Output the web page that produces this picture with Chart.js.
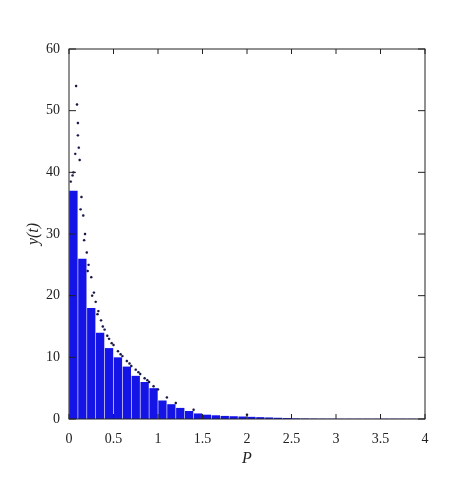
<!DOCTYPE html>
<html>
<head>
<meta charset="utf-8">
<script src="https://cdn.jsdelivr.net/npm/chart.js@4/dist/chart.umd.min.js"></script>
<style>
  html, body { margin: 0; padding: 0; background: #fff; }
  #wrap { width: 474px; height: 479px; }
</style>
</head>
<body>
<div id="wrap"><canvas id="chart"></canvas></div>
<script>
// bin centres of P and top of the dense blue band y(t)
const binP = [0.05, 0.15, 0.25, 0.35, 0.45, 0.55, 0.65, 0.75, 0.85, 0.95, 1.05, 1.15, 1.25, 1.35, 1.45,
              1.55, 1.65, 1.75, 1.85, 1.95, 2.05, 2.15, 2.25, 2.35, 2.45, 2.55, 2.65, 2.75, 2.85, 2.95,
              3.05, 3.15, 3.25, 3.35, 3.45, 3.55, 3.65, 3.75, 3.85, 3.95];
const bandTop = [37, 26, 18, 14, 11.5, 10, 8.5, 7, 6, 5, 3, 2.4, 1.8, 1.3, 0.9,
                 0.7, 0.6, 0.5, 0.45, 0.4, 0.35, 0.3, 0.25, 0.2, 0.15, 0.1, 0.08, 0.06, 0.05, 0.05,
                 0.04, 0.04, 0.04, 0.04, 0.04, 0.04, 0.04, 0.04, 0.04, 0.04];
// scattered outlying points above the band
const edgeP = [0.08, 0.09, 0.1, 0.1, 0.11, 0.12, 0.07, 0.05, 0.14, 0.16, 0.18, 0.2, 0.22, 0.25, 0.28, 0.3,
               0.33, 0.36, 0.4, 0.45, 0.5, 0.55, 0.6, 0.65, 0.7, 0.75, 0.8, 0.85, 0.9, 0.95, 1.0, 1.1, 1.2, 1.4, 2.0,
               0.02, 0.04, 0.13, 0.17, 0.21, 0.26, 0.32, 0.38, 0.43, 0.48, 0.58, 0.68, 0.78, 0.88];
const edgeY = [54, 51, 48, 46, 44, 42, 43, 40, 36, 33, 30, 27, 25, 23, 20.5, 19,
               17.5, 16, 14.5, 13, 12, 11, 10.2, 9.4, 8.6, 8, 7.3, 6.6, 6, 5.3, 4.8, 3.5, 2.6, 1.5, 0.7,
               38.5, 39.5, 34, 29, 24, 20, 17, 15, 13.5, 12.3, 10.5, 9, 7.6, 6.3];
const xTicks = [0, 0.5, 1, 1.5, 2, 2.5, 3, 3.5, 4];
const yTicks = [0, 10, 20, 30, 40, 50, 60];

const frame = {
  id: "frame",
  afterDraw(chart) {
    const { ctx, chartArea: a } = chart;
    ctx.save();
    ctx.strokeStyle = "#222";
    ctx.lineWidth = 1;
    ctx.strokeRect(a.left, a.top, a.right - a.left, a.bottom - a.top);
    ctx.beginPath();
    xTicks.forEach(v => {
      const x = chart.scales.x.getPixelForValue(v);
      ctx.moveTo(x, a.bottom); ctx.lineTo(x, a.bottom - 5);
      ctx.moveTo(x, a.top); ctx.lineTo(x, a.top + 5);
    });
    yTicks.forEach(v => {
      const y = chart.scales.y.getPixelForValue(v);
      ctx.moveTo(a.left, y); ctx.lineTo(a.left + 7, y);
      ctx.moveTo(a.right, y); ctx.lineTo(a.right - 7, y);
    });
    ctx.stroke();
    ctx.restore();
  }
};

new Chart(document.getElementById("chart"), {
  type: "bar",
  data: {
    datasets: [
      {
        type: "scatter",
        data: edgeP.map((p, i) => ({ x: p, y: edgeY[i] })),
        backgroundColor: "#1a1a50",
        pointRadius: 1.2,
        pointHoverRadius: 1.2
      },
      {
        data: binP.map((p, i) => ({ x: p, y: bandTop[i] })),
        backgroundColor: "#1414e6",
        borderWidth: 0,
        barPercentage: 0.93,
        categoryPercentage: 1
      }
    ]
  },
  options: {
    responsive: true,
    maintainAspectRatio: false,
    animation: false,
    layout: { padding: { top: 49, right: 49, left: 0, bottom: 0 } },
    plugins: { legend: { display: false }, tooltip: { enabled: false } },
    scales: {
      x: {
        type: "linear", min: 0, max: 4, offset: false,
        grid: { display: false }, border: { display: false },
        afterBuildTicks: s => { s.ticks = xTicks.map(v => ({ value: v })); },
        afterFit: s => { s.height = 60; },
        ticks: { color: "#222", font: { family: "Liberation Serif", size: 14 }, padding: 4,
                 callback: v => String(v) },
        title: { display: true, text: "P", color: "#222", padding: { top: 0, bottom: 11 },
                 font: { family: "Liberation Serif", size: 16, style: "italic" } }
      },
      y: {
        min: 0, max: 60,
        grid: { display: false }, border: { display: false },
        afterBuildTicks: s => { s.ticks = yTicks.map(v => ({ value: v })); },
        afterFit: s => { s.width = 69; },
        ticks: { color: "#222", font: { family: "Liberation Serif", size: 14 }, padding: 1 },
        title: { display: true, text: "y(t)", color: "#222", padding: { top: 24, bottom: 0 },
                 font: { family: "Liberation Serif", size: 16, style: "italic" } }
      }
    }
  },
  plugins: [frame]
});
</script>
</body>
</html>
